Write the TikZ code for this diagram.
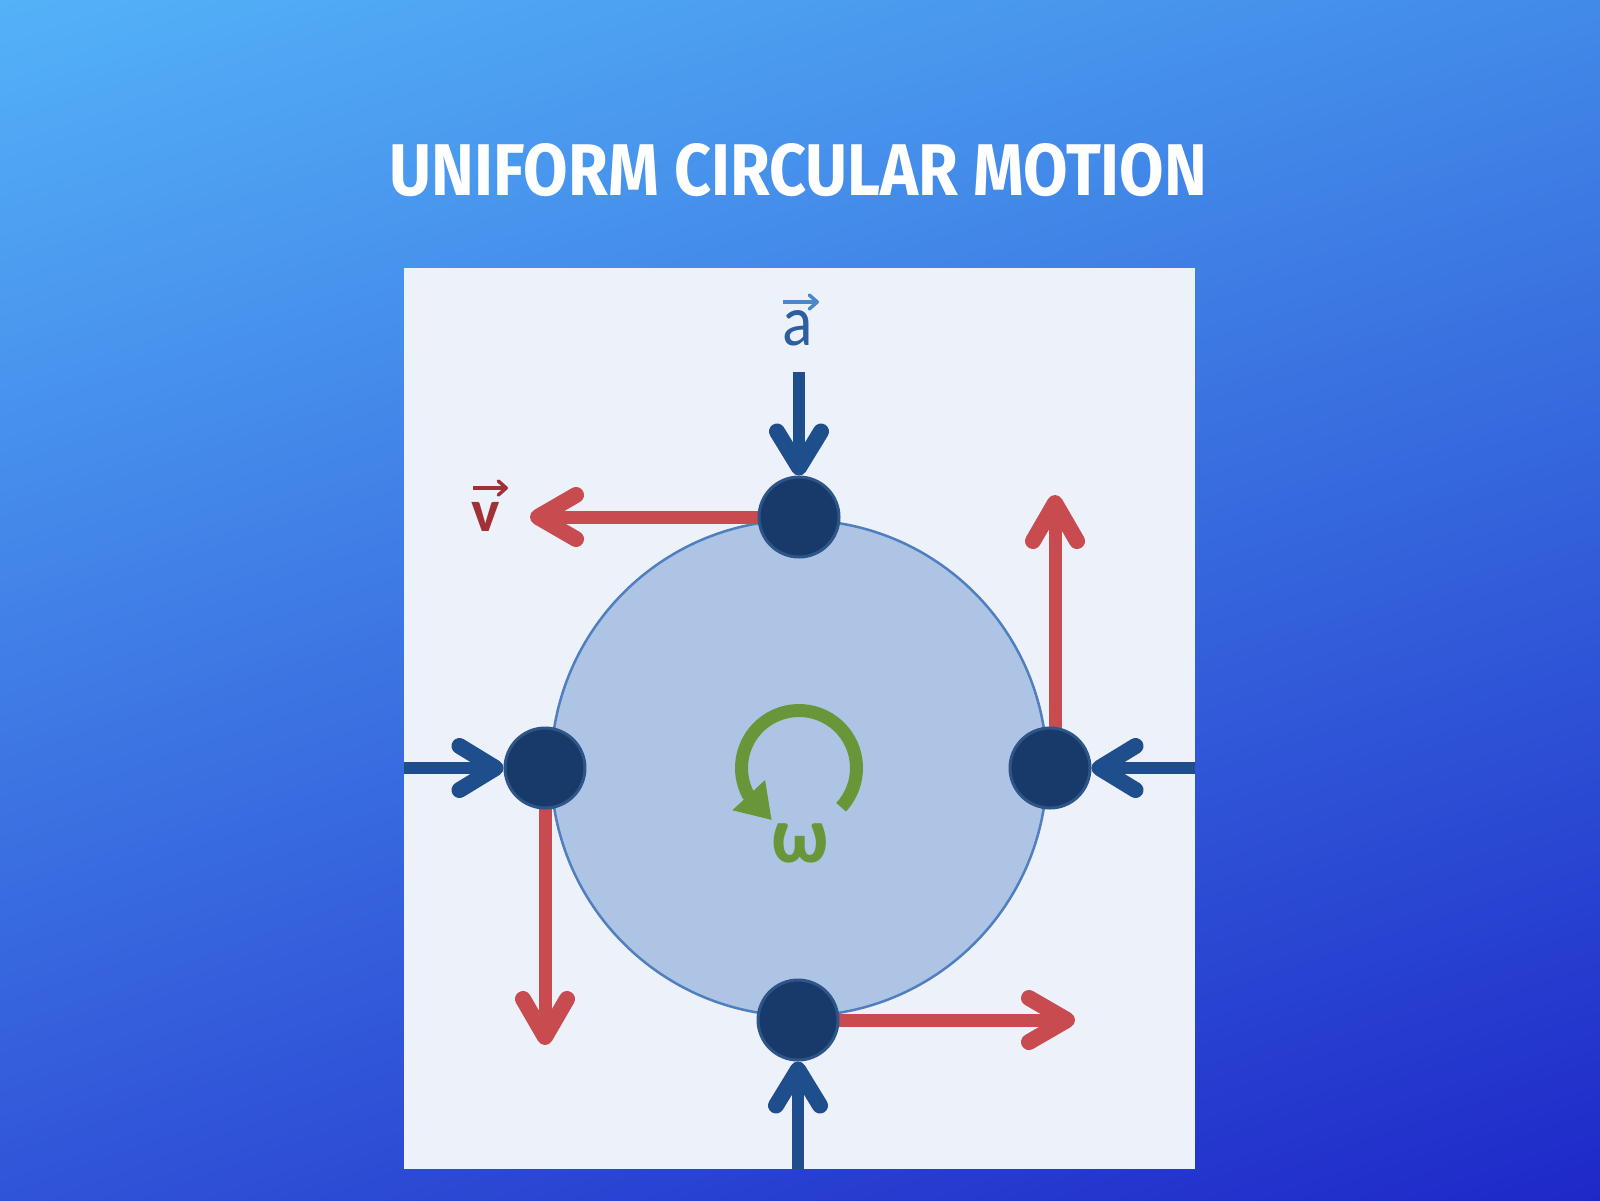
\documentclass[tikz,border=0pt]{standalone}
\usepackage{graphicx}
\usepackage{fontspec}
\setmainfont{Carlito}
\newfontfamily\titlefont{Fira Sans}
\usetikzlibrary{arrows.meta,calc,shadings}
\definecolor{bgTL}{RGB}{84,178,248}
\definecolor{bgTR}{RGB}{66,138,232}
\definecolor{bgBL}{RGB}{48,84,216}
\definecolor{bgBR}{RGB}{30,40,200}
\definecolor{panel}{RGB}{237,241,250}
\definecolor{discfill}{RGB}{174,196,228}
\definecolor{discedge}{RGB}{79,127,191}
\definecolor{dotfill}{RGB}{23,58,106}
\definecolor{dotedge}{RGB}{45,85,135}
\definecolor{velred}{RGB}{200,75,80}
\definecolor{accblue}{RGB}{30,78,140}
\definecolor{omgreen}{RGB}{106,150,58}
\definecolor{alabel}{RGB}{45,95,160}
\definecolor{avecc}{RGB}{75,135,201}
\definecolor{vlabel}{RGB}{160,50,55}
\begin{document}
\begin{tikzpicture}[x=1pt,y=-1pt,
  dot/.style={circle, fill=dotfill, draw=dotedge, line width=3pt, minimum size=80pt, inner sep=0pt},
  accarrow/.style={draw=accblue, line width=12pt, -{Straight Barb[length=36pt, width=44pt, line width=16pt, round]}},
  velarrow/.style={draw=velred, line width=13pt, -{Straight Barb[length=38pt, width=44pt, line width=16pt, round]}},
  smallvec/.style={line width=3.5pt, -{Straight Barb[length=8pt, width=14pt, round]}},
  omegaarc/.style={draw=omgreen, line width=13pt, -{Triangle[length=34pt, width=42pt]}},
  lab/.style={inner sep=0pt, anchor=base}
]
\useasboundingbox (0,0) rectangle (1600,1200);
\shade[upper left=bgTL, upper right=bgTR, lower left=bgBL, lower right=bgBR] (0,0) rectangle (1600,1200);

% title
\node[lab, text=white] (title) at (798.5,195) {\resizebox{817pt}{52pt}{\titlefont\bfseries UNIFORM CIRCULAR MOTION}};

% panel
\fill[panel] (404,268) rectangle (1195,1169);

% disc
\draw[fill=discfill, draw=discedge, line width=2.5pt] (799,768) circle[radius=248];

% dot centres
\coordinate (c1) at (799,517);
\coordinate (c2) at (545,768);
\coordinate (c3) at (1050,768);
\coordinate (c4) at (798,1020);

% velocity ends
\coordinate (v1) at (530,517);
\coordinate (v2) at (545,1045);
\coordinate (v3s) at (1055,768);
\coordinate (v3) at (1055,495);
\coordinate (v4) at (1075,1020);

\draw[velarrow] (c1) -- (v1);
\draw[velarrow] (c2) -- (v2);
\draw[velarrow] (v3s) -- (v3);
\draw[velarrow] (c4) -- (v4);

% dots
\node[dot] (d1) at (c1) {};
\node[dot] (d2) at (c2) {};
\node[dot] (d3) at (c3) {};
\node[dot] (d4) at (c4) {};

% acceleration arrows
\coordinate (a1) at (799,372);
\coordinate (a2) at (404,768);
\coordinate (a3) at (1195,768);
\coordinate (a4) at (798,1169);
\draw[accarrow] (a1) -- (d1);
\draw[accarrow] (a2) -- (d2);
\draw[accarrow] (a3) -- (d3);
\draw[accarrow] (a4) -- (d4);

% labels
\node[lab, text=alabel, font=\fontsize{72}{72}\selectfont] (alab) at (798,345) {\scalebox{0.88}[1]{a}};
\coordinate (avs) at (783,302);
\coordinate (ave) at (819,302);
\draw[smallvec, draw=avecc] (avs) -- (ave);

\node[lab, text=vlabel, font=\fontsize{60}{60}\selectfont\bfseries] (vlab) at (486,531) {v};
\coordinate (vvs) at (473,488);
\coordinate (vve) at (508,488);
\draw[smallvec, draw=vlabel] (vvs) -- (vve);

% omega
\coordinate (oc) at (799,768);
\draw[omegaarc] (oc) ++(43:57.5) arc[start angle=43, end angle=-207, radius=57.5] -- ++(24,26);
\node[lab, text=omgreen, font=\fontsize{80}{80}\selectfont\bfseries] (wlab) at (800,862) {ω};
\end{tikzpicture}
\end{document}
